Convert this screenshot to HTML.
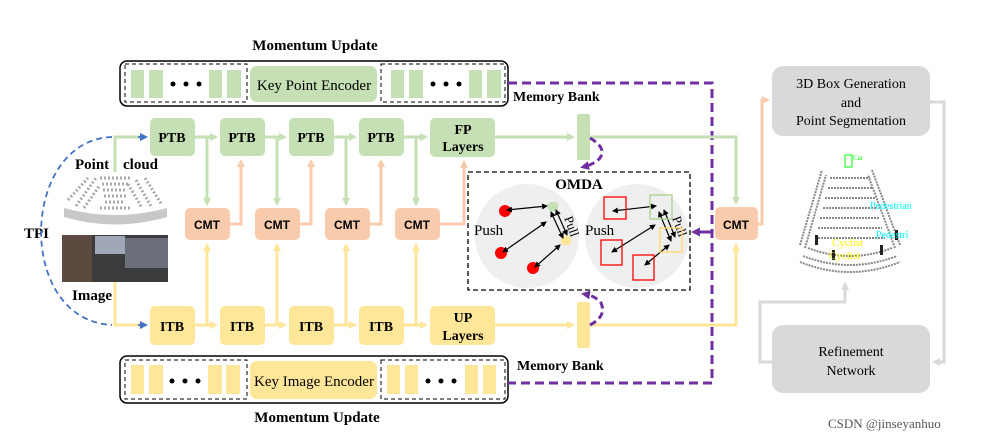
<!DOCTYPE html>
<html><head><meta charset="utf-8"><style>
html,body{margin:0;padding:0;background:#fff;width:991px;height:443px;overflow:hidden}
svg text{font-family:"Liberation Serif",serif}
.b{font-weight:bold}
.s{font-family:"Liberation Sans",sans-serif!important;font-weight:bold}
</style></head><body>
<svg width="991" height="443" viewBox="0 0 991 443" xmlns="http://www.w3.org/2000/svg">
<defs>
<marker id="ag" markerWidth="8" markerHeight="8" refX="6" refY="4" orient="auto" markerUnits="userSpaceOnUse"><path d="M0,0L8,4L0,8z" fill="#c5e0b4"/></marker>
<marker id="ay" markerWidth="8" markerHeight="8" refX="6" refY="4" orient="auto" markerUnits="userSpaceOnUse"><path d="M0,0L8,4L0,8z" fill="#ffe699"/></marker>
<marker id="ao" markerWidth="8" markerHeight="8" refX="6" refY="4" orient="auto" markerUnits="userSpaceOnUse"><path d="M0,0L8,4L0,8z" fill="#f8cbad"/></marker>
<marker id="agr" markerWidth="8" markerHeight="8" refX="6" refY="4" orient="auto" markerUnits="userSpaceOnUse"><path d="M0,0L8,4L0,8z" fill="#d9d9d9"/></marker>
<marker id="ab" markerWidth="8" markerHeight="8" refX="6" refY="4" orient="auto" markerUnits="userSpaceOnUse"><path d="M0,0L8,4L0,8z" fill="#4472c4"/></marker>
<marker id="ap" markerWidth="9" markerHeight="9" refX="6" refY="4.5" orient="auto" markerUnits="userSpaceOnUse"><path d="M0,0L9,4.5L0,9z" fill="#7030a0"/></marker>
<marker id="ak" markerWidth="6" markerHeight="6" refX="5" refY="3" orient="auto-start-reverse" markerUnits="userSpaceOnUse"><path d="M0,0L6,3L0,6z" fill="#000"/></marker>
</defs>

<text x="315" y="50" font-size="15" class="b" text-anchor="middle">Momentum Update</text>
<rect x="120" y="61" width="388" height="45" rx="7" fill="none" stroke="#000" stroke-width="1.5"/>
<rect x="125" y="64" width="122" height="38" fill="none" stroke="#000" stroke-dasharray="4,3"/>
<rect x="381" y="64" width="124" height="38" fill="none" stroke="#000" stroke-dasharray="4,3"/>
<g fill="#c5e0b4">
<rect x="131" y="70" width="13" height="28"/><rect x="149" y="70" width="14" height="28"/><rect x="209" y="70" width="13" height="28"/><rect x="227" y="70" width="14" height="28"/>
<rect x="391" y="70" width="13" height="28"/><rect x="409" y="70" width="14" height="28"/><rect x="469" y="70" width="13" height="28"/><rect x="487" y="70" width="14" height="28"/>
<rect x="250" y="66" width="127" height="36" rx="7"/>
</g>
<g fill="#000"><circle cx="173" cy="84" r="2.5"/><circle cx="186" cy="84" r="2.5"/><circle cx="199" cy="84" r="2.5"/><circle cx="433" cy="84" r="2.5"/><circle cx="446" cy="84" r="2.5"/><circle cx="459" cy="84" r="2.5"/></g>
<text x="314" y="90" font-size="15" text-anchor="middle">Key Point Encoder</text>

<rect x="120" y="356" width="388" height="47" rx="7" fill="none" stroke="#000" stroke-width="1.5"/>
<rect x="125" y="360" width="122" height="39" fill="none" stroke="#000" stroke-dasharray="4,3"/>
<rect x="381" y="360" width="124" height="39" fill="none" stroke="#000" stroke-dasharray="4,3"/>
<g fill="#ffe699">
<rect x="131" y="365" width="13" height="29"/><rect x="149" y="365" width="14" height="29"/><rect x="208" y="365" width="14" height="29"/><rect x="226" y="365" width="14" height="29"/>
<rect x="387" y="365" width="13" height="29"/><rect x="405" y="365" width="13" height="29"/><rect x="465" y="365" width="13" height="29"/><rect x="483" y="365" width="13" height="29"/>
<rect x="250" y="361" width="127" height="38" rx="7"/>
</g>
<g fill="#000"><circle cx="172" cy="381" r="2.5"/><circle cx="185" cy="381" r="2.5"/><circle cx="198" cy="381" r="2.5"/><circle cx="428" cy="381" r="2.5"/><circle cx="441" cy="381" r="2.5"/><circle cx="454" cy="381" r="2.5"/></g>
<text x="314" y="386" font-size="15" text-anchor="middle">Key Image Encoder</text>
<text x="317" y="422" font-size="15" class="b" text-anchor="middle">Momentum Update</text>

<path d="M508,83 H712 V383 H508" fill="none" stroke="#7030a0" stroke-width="3" stroke-dasharray="9,5"/>
<line x1="712" y1="232" x2="694" y2="232" stroke="#7030a0" stroke-width="3" marker-end="url(#ap)"/>
<text x="513" y="101" font-size="14" class="b">Memory Bank</text>
<text x="517" y="370" font-size="14" class="b">Memory Bank</text>

<g stroke="#c5e0b4" stroke-width="3" fill="none">
<path d="M115,172 V137 H146" marker-end="url(#ag)"/>
<line x1="195" y1="137" x2="216" y2="137" marker-end="url(#ag)"/>
<line x1="265" y1="137" x2="285" y2="137" marker-end="url(#ag)"/>
<line x1="334" y1="137" x2="355" y2="137" marker-end="url(#ag)"/>
<line x1="404" y1="137" x2="426" y2="137" marker-end="url(#ag)"/>
<line x1="495" y1="137" x2="573" y2="137" marker-end="url(#ag)"/>
<path d="M590,137 H736 V203" marker-end="url(#ag)"/>
<line x1="207" y1="137" x2="207" y2="204" marker-end="url(#ag)"/>
<line x1="277" y1="137" x2="277" y2="204" marker-end="url(#ag)"/>
<line x1="346" y1="137" x2="346" y2="204" marker-end="url(#ag)"/>
<line x1="416" y1="137" x2="416" y2="204" marker-end="url(#ag)"/>
</g>
<g stroke="#ffe699" stroke-width="3" fill="none">
<path d="M115,282 V325 H146" marker-end="url(#ay)"/>
<line x1="195" y1="325" x2="216" y2="325" marker-end="url(#ay)"/>
<line x1="265" y1="325" x2="285" y2="325" marker-end="url(#ay)"/>
<line x1="334" y1="325" x2="355" y2="325" marker-end="url(#ay)"/>
<line x1="404" y1="325" x2="426" y2="325" marker-end="url(#ay)"/>
<line x1="495" y1="325" x2="573" y2="325" marker-end="url(#ay)"/>
<path d="M590,325 H736 V245" marker-end="url(#ay)"/>
<line x1="207" y1="325" x2="207" y2="245" marker-end="url(#ay)"/>
<line x1="277" y1="325" x2="277" y2="245" marker-end="url(#ay)"/>
<line x1="346" y1="325" x2="346" y2="245" marker-end="url(#ay)"/>
<line x1="416" y1="325" x2="416" y2="245" marker-end="url(#ay)"/>
</g>
<g stroke="#f8cbad" stroke-width="3" fill="none">
<path d="M230,224 H241 V161" marker-end="url(#ao)"/>
<path d="M300,224 H311 V161" marker-end="url(#ao)"/>
<path d="M370,224 H381 V161" marker-end="url(#ao)"/>
<path d="M440,224 H464 V162" marker-end="url(#ao)"/>
<path d="M758,224 H762 V100 H768" marker-end="url(#ao)"/>
</g>
<g stroke="#d9d9d9" stroke-width="3" fill="none">
<path d="M930,102 H944 V362 H934" marker-end="url(#agr)"/>
<path d="M772,362 H760 V302 H845 V284" marker-end="url(#agr)"/>
</g>

<g fill="#c5e0b4">
<rect x="150" y="118" width="45" height="38" rx="5"/><rect x="220" y="118" width="45" height="38" rx="5"/><rect x="289" y="118" width="45" height="38" rx="5"/><rect x="359" y="118" width="45" height="38" rx="5"/><rect x="430" y="118" width="65" height="39" rx="5"/>
<rect x="577" y="114" width="13" height="46" rx="2"/>
</g>
<g fill="#ffe699">
<rect x="150" y="306" width="45" height="39" rx="5"/><rect x="220" y="306" width="45" height="39" rx="5"/><rect x="289" y="306" width="45" height="39" rx="5"/><rect x="359" y="306" width="45" height="39" rx="5"/><rect x="430" y="306" width="65" height="39" rx="5"/>
<rect x="577" y="302" width="13" height="46" rx="2"/>
</g>
<g fill="#f8cbad">
<rect x="185" y="208" width="45" height="32" rx="5"/><rect x="255" y="208" width="45" height="32" rx="5"/><rect x="325" y="208" width="45" height="32" rx="5"/><rect x="395" y="208" width="45" height="32" rx="5"/><rect x="715" y="207" width="43" height="33" rx="5"/>
</g>
<g font-size="14" class="b" text-anchor="middle">
<text x="172" y="142">PTB</text><text x="242" y="142">PTB</text><text x="311" y="142">PTB</text><text x="381" y="142">PTB</text>
<text x="463" y="134">FP</text><text x="463" y="151">Layers</text>
<text x="172" y="331">ITB</text><text x="242" y="331">ITB</text><text x="311" y="331">ITB</text><text x="381" y="331">ITB</text>
<text x="463" y="322">UP</text><text x="463" y="340">Layers</text>
</g>
<g font-size="12" text-anchor="middle">
<text x="207" y="229" class="s">CMT</text><text x="277" y="229" class="s">CMT</text><text x="347" y="229" class="s">CMT</text><text x="417" y="229" class="s">CMT</text><text x="736" y="229" class="s">CMT</text>
</g>

<path d="M590,138 Q607,148 600,158 Q595,164 583,167" fill="none" stroke="#7030a0" stroke-width="3" stroke-dasharray="7,4" marker-end="url(#ap)"/>
<path d="M590,325 Q607,316 601,303 Q596,296 584,294" fill="none" stroke="#7030a0" stroke-width="3" stroke-dasharray="7,4" marker-end="url(#ap)"/>

<rect x="468" y="172" width="222" height="118" fill="none" stroke="#000" stroke-width="1.3" stroke-dasharray="5,3"/>
<circle cx="527" cy="236" r="52" fill="#efefef"/>
<circle cx="637" cy="236" r="52" fill="#efefef"/>
<text x="579" y="189" font-size="15" class="b" text-anchor="middle">OMDA</text>
<text x="474" y="235" font-size="15">Push</text>
<text x="585" y="235" font-size="15">Push</text>
<text x="564" y="218" font-size="13" transform="rotate(70 564 218)">Pull</text>
<text x="672" y="218" font-size="13" transform="rotate(70 672 218)">Pull</text>
<rect x="548" y="202" width="10" height="9" rx="3" fill="#c5e0b4"/>
<rect x="561" y="236" width="10" height="9" rx="3" fill="#ffe699"/>
<g fill="#ff0000"><circle cx="505" cy="211" r="6"/><circle cx="501" cy="253" r="6"/><circle cx="533" cy="268" r="6"/></g>
<g stroke="#000" stroke-width="1.2" marker-end="url(#ak)" marker-start="url(#ak)">
<line x1="507" y1="210" x2="547" y2="206"/>
<line x1="503" y1="252" x2="546" y2="222"/>
<line x1="535" y1="267" x2="560" y2="245"/>
<line x1="551" y1="212" x2="563" y2="238"/>
<line x1="556" y1="210" x2="567" y2="235"/>
<line x1="613" y1="211" x2="656" y2="206"/>
<line x1="612" y1="252" x2="655" y2="225"/>
<line x1="645" y1="265" x2="669" y2="245"/>
<line x1="659" y1="212" x2="671" y2="241"/>
<line x1="664" y1="210" x2="675" y2="237"/>
</g>
<g fill="none" stroke-width="1.3">
<rect x="604" y="197" width="22" height="22" stroke="#ff0000"/>
<rect x="601" y="240" width="21" height="25" stroke="#ff0000"/>
<rect x="633" y="255" width="21" height="25" stroke="#ff0000"/>
<rect x="650" y="195" width="22" height="24" stroke="#a9d18e"/>
<rect x="660" y="228" width="22" height="24" stroke="#ffd966"/>
</g>

<text x="75" y="169" font-size="15" class="b">Point</text><text x="123" y="169" font-size="15" class="b">cloud</text>
<g>
<path d="M64,208 Q115,222 167,208 L167,217 Q115,232 64,217Z" fill="#c8c8c8"/>
<g stroke="#aaa" stroke-width="3" stroke-dasharray="2,2">
<path d="M68,200 L88,178 M76,206 L96,178 M84,208 L100,185 M145,178 L162,205 M136,180 L152,208 M128,184 L142,208"/>
<path d="M100,178 H130 M102,184 H128 M103,190 H127 M104,196 H126 M105,202 H125 M100,208 H130"/>
</g>
</g>
<rect x="62" y="235" width="106" height="47" fill="#3b3a3c"/>
<rect x="62" y="235" width="30" height="47" fill="#5a4a40"/>
<rect x="125" y="238" width="43" height="30" fill="#6b6f7a"/>
<rect x="95" y="236" width="30" height="18" fill="#9fa7b8"/>
<text x="72" y="300" font-size="15" class="b">Image</text>
<text x="24" y="238" font-size="15" class="b">TPI</text>
<path d="M112,137 C20,140 15,320 112,325" fill="none" stroke="#4472c4" stroke-width="1.8" stroke-dasharray="6,4"/>
<line x1="138" y1="137" x2="146" y2="137" stroke="#4472c4" stroke-width="1.8" marker-end="url(#ab)"/>
<line x1="138" y1="325" x2="146" y2="325" stroke="#4472c4" stroke-width="1.8" marker-end="url(#ab)"/>

<rect x="772" y="66" width="158" height="70" rx="11" fill="#d9d9d9"/>
<text x="851" y="88" font-size="14" text-anchor="middle">3D Box Generation</text>
<text x="851" y="107" font-size="14" text-anchor="middle">and</text>
<text x="851" y="125" font-size="14" text-anchor="middle">Point Segmentation</text>
<rect x="772" y="325" width="158" height="68" rx="11" fill="#d9d9d9"/>
<text x="851" y="356" font-size="14" text-anchor="middle">Refinement</text>
<text x="851" y="375" font-size="14" text-anchor="middle">Network</text>
<g stroke="#888" stroke-width="2" fill="none" stroke-dasharray="2,1">
<path d="M800,262 Q850,282 900,262"/>
<path d="M803,256 Q850,274 897,256"/>
<path d="M808,248 Q850,264 892,248"/>
<path d="M815,238 H885 M818,228 H882 M820,218 H880 M823,208 H877 M825,198 H875 M828,188 H872 M830,178 H870"/>
<path d="M800,245 L822,170 M805,248 L826,175 M900,245 L872,170 M895,248 L868,175"/>
</g>
<g fill="#222"><rect x="815" y="235" width="3" height="10"/><rect x="832" y="250" width="3" height="10"/><rect x="880" y="245" width="3" height="10"/><rect x="895" y="230" width="3" height="10"/></g>
<rect x="845" y="155" width="7" height="12" fill="none" stroke="#00ff00"/>
<text x="853" y="160" font-size="7" fill="#00ff00" font-family="Liberation Sans">Car</text>
<text x="870" y="209" font-size="10" fill="#00ffff" font-family="Liberation Sans">Pedestrian</text>
<text x="876" y="238" font-size="10" fill="#00ffff" font-family="Liberation Sans">Pedestri</text>
<text x="832" y="246" font-size="11" fill="#ffff00" font-family="Liberation Sans">Cyclist</text>
<text x="829" y="259" font-size="11" fill="#ffff00" font-family="Liberation Sans">Cyclist</text>

<text x="828" y="428" font-size="13" fill="#555" font-family="Liberation Sans">CSDN @jinseyanhuo</text>
</svg>
</body></html>
